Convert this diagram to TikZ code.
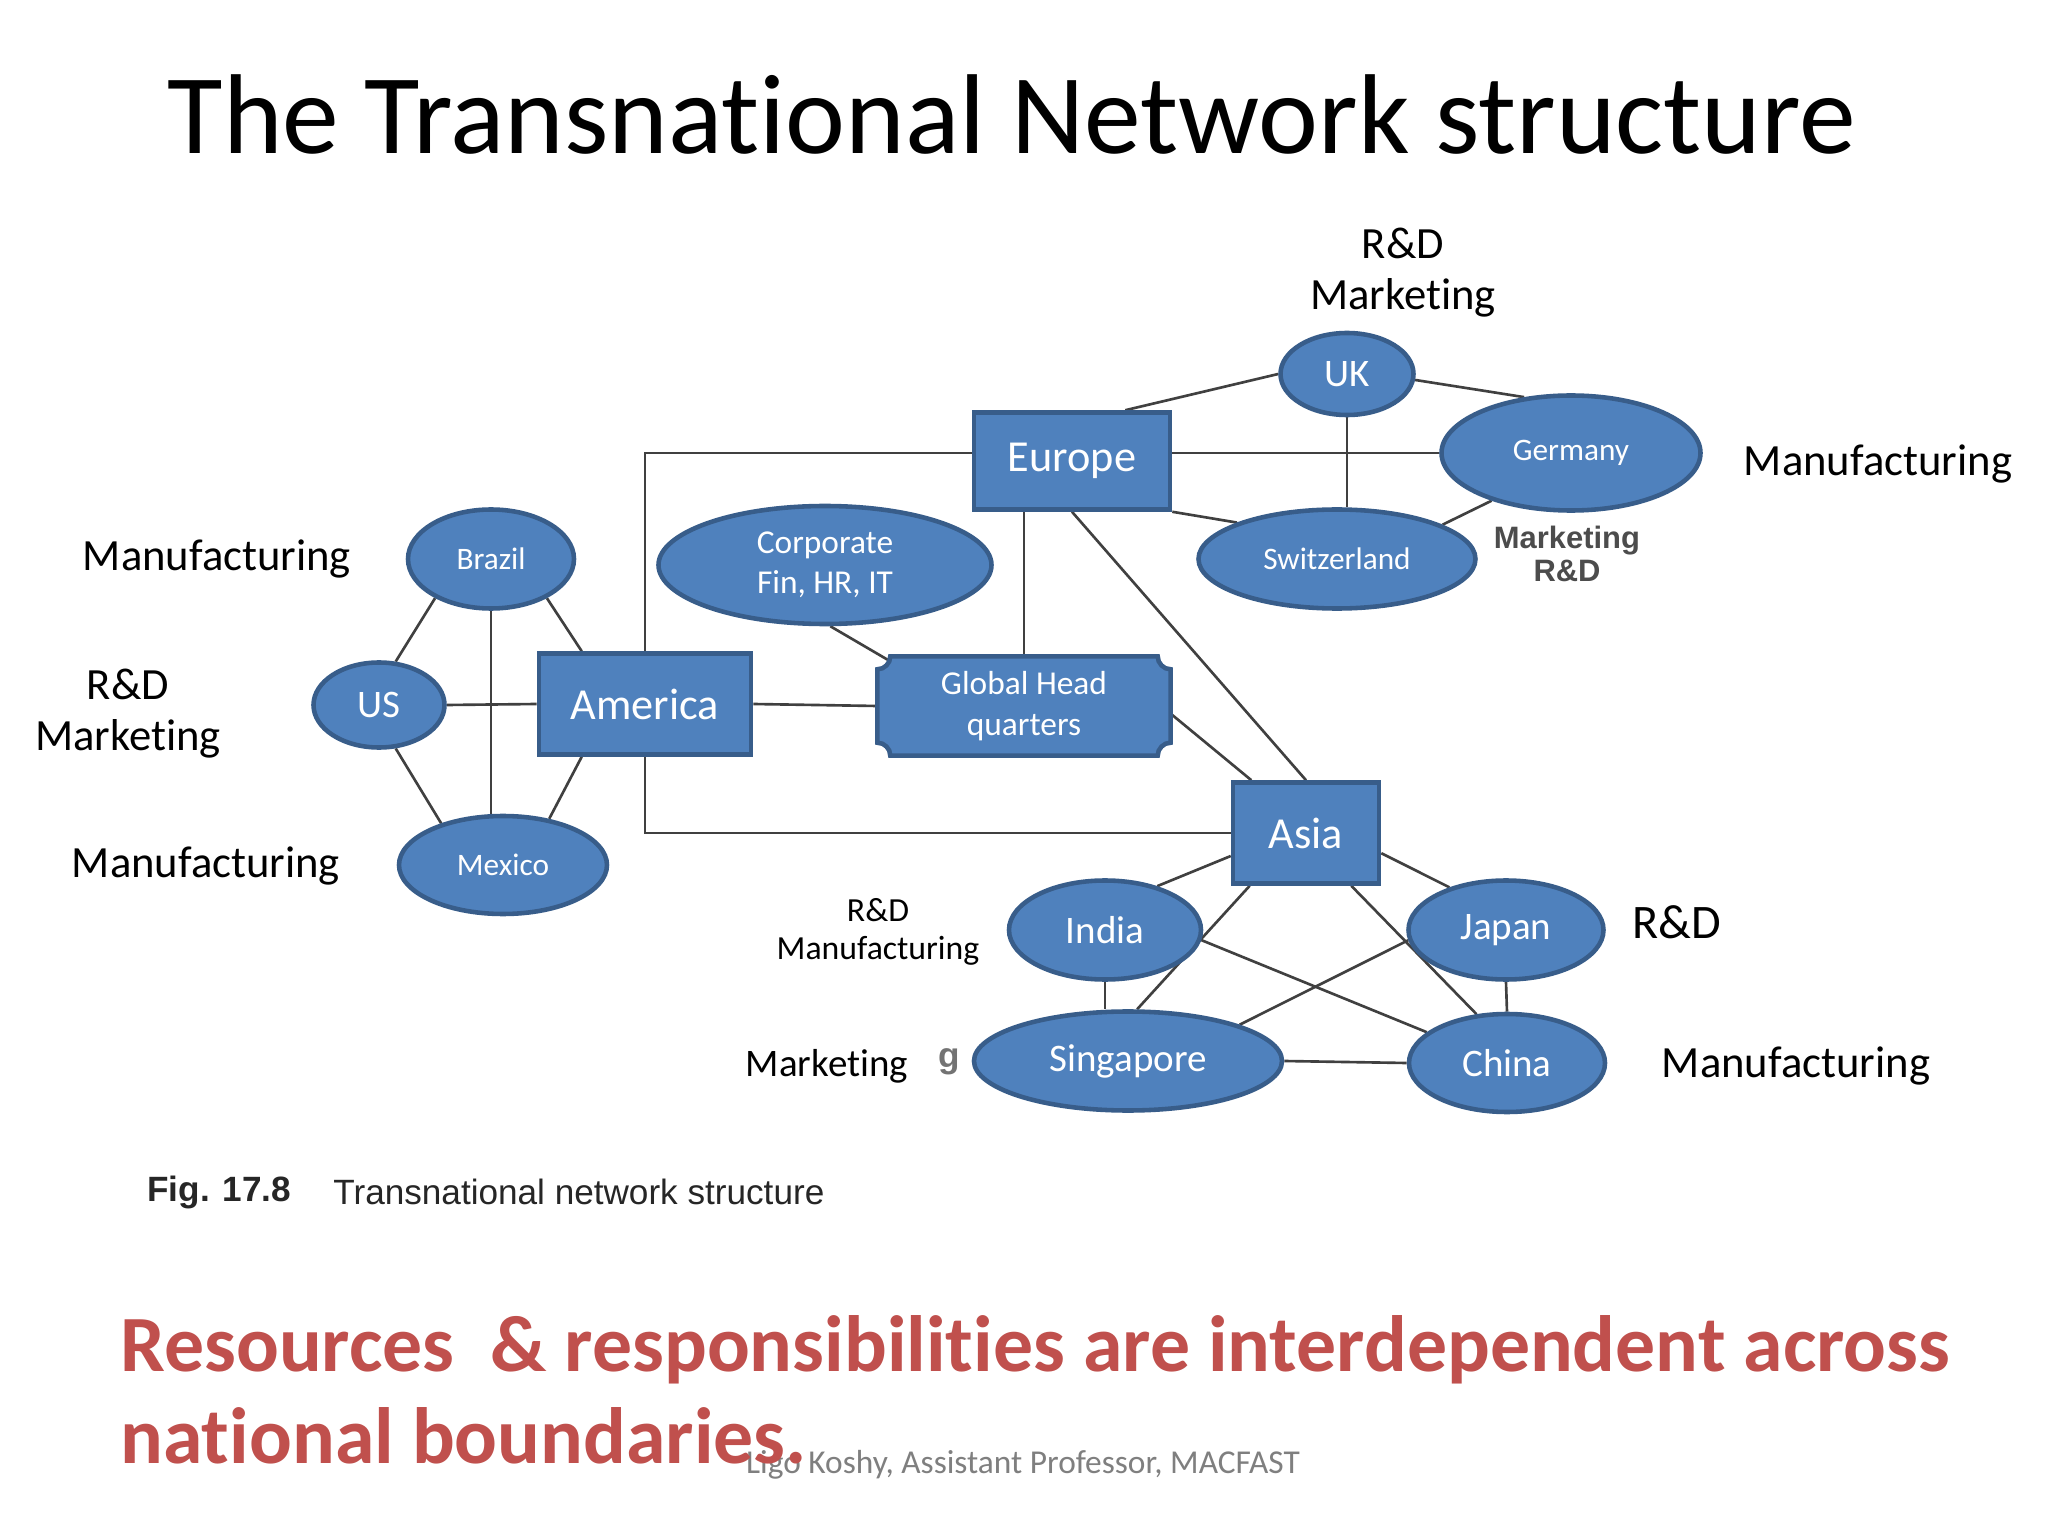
\documentclass[tikz,border=0pt]{standalone}
\usepackage{fontspec}
\setmainfont[Ligatures=NoCommon]{Carlito}
\newfontfamily\scanfont{Liberation Sans}
\usetikzlibrary{shapes.geometric, positioning, backgrounds}
\definecolor{nodeblue}{RGB}{79,129,189}
\definecolor{nodeedge}{RGB}{56,93,138}
\definecolor{slidered}{RGB}{192,80,77}
\definecolor{wire}{RGB}{64,64,64}
\definecolor{footgray}{RGB}{127,127,127}
\newcommand{\hqnotch}{0.13cm}

\begin{document}
\begin{tikzpicture}
    \tikzstyle{hub} = [rectangle, draw=nodeedge, line width=1.3pt, fill=nodeblue, text=white, inner sep=0pt, font=\fontsize{12.6}{15}\selectfont]
    \tikzstyle{country} = [ellipse, draw=nodeedge, line width=1.3pt, fill=nodeblue, text=white, inner sep=0pt, font=\fontsize{11.1}{13}\selectfont]
    \tikzstyle{minor} = [font=\fontsize{8.9}{11}\selectfont]
    \tikzstyle{twoline} = [align=center, font=\fontsize{9.5}{11.5}\selectfont]
    \tikzstyle{plaque} = [draw=nodeedge, line width=1.3pt, fill=nodeblue]
    \tikzstyle{resp} = [font=\fontsize{12.7}{15}\selectfont]
    \tikzstyle{scan} = [text=black!70, font=\scanfont\bfseries\fontsize{8.8}{10}\selectfont]
    \tikzstyle{line} = [draw=wire, line width=0.75pt]

    \useasboundingbox (0,0) rectangle (20.48,-15.36);

    \node [anchor=base, font=\fontsize{32.3}{38}\selectfont] (title) at (10.12,-1.54) {The Transnational Network structure};

    \node [hub, minimum width=1.96cm, minimum height=0.97cm] (europe) at (10.72,-4.61) {Europe};
    \node [hub, minimum width=2.12cm, minimum height=1.01cm] (america) at (6.45,-7.04) {America};
    \node [hub, minimum width=1.46cm, minimum height=1.01cm] (asia) at (13.06,-8.33) {Asia};

    \node [country, minimum width=1.33cm, minimum height=0.82cm] (uk) at (13.47,-3.74) {UK};
    \node [country, minor, minimum width=2.59cm, minimum height=1.15cm] (germany) at (15.71,-4.53) {Germany};
    \node [country, minor, minimum width=2.77cm, minimum height=0.99cm] (switzerland) at (13.37,-5.59) {Switzerland};
    \node [country, twoline, minimum width=3.33cm, minimum height=1.18cm] (corporate) at (8.25,-5.65) {Corporate\\Fin, HR, IT};
    \node [twoline, text=white, minimum width=2.92cm, minimum height=0.98cm] (hq) at (10.24,-7.06) {Global Head\\quarters};

    \node [country, minor, minimum width=1.66cm, minimum height=0.99cm] (brazil) at (4.91,-5.59) {Brazil};
    \node [country, minimum width=1.31cm, minimum height=0.85cm] (us) at (3.79,-7.05) {US};
    \node [country, minor, minimum width=2.08cm, minimum height=0.98cm] (mexico) at (5.03,-8.65) {Mexico};

    \node [country, minimum width=1.92cm, minimum height=0.99cm] (india) at (11.05,-9.30) {India};
    \node [country, minimum width=1.95cm, minimum height=0.99cm] (japan) at (15.06,-9.30) {Japan};
    \node [country, minimum width=3.08cm, minimum height=0.99cm] (singapore) at (11.28,-10.61) {Singapore};
    \node [country, minimum width=1.96cm, minimum height=0.98cm] (china) at (15.07,-10.63) {China};

    \node [resp] (ukrd) at (14.03,-2.43) {R\&D};
    \node [resp] (ukmkt) at (14.03,-2.98) {Marketing};
    \node [resp] (demfg) at (18.78,-4.64) {Manufacturing};
    \node [scan] (chmkt) at (15.67,-5.41) {Marketing};
    \node [scan] (chrd) at (15.67,-5.71) {R\&D};
    \node [resp] (brmfg) at (2.17,-5.59) {Manufacturing};
    \node [resp] (usrd) at (1.28,-6.84) {R\&D};
    \node [resp] (usmkt) at (1.28,-7.39) {Marketing};
    \node [resp] (mxmfg) at (2.06,-8.66) {Manufacturing};
    \node [font=\fontsize{9.6}{11}\selectfont] (inrd) at (8.78,-9.10) {R\&D};
    \node [font=\fontsize{9.6}{11}\selectfont] (inmfg) at (8.78,-9.51) {Manufacturing};
    \node [font=\fontsize{11.1}{13}\selectfont] (sgmkt) at (8.27,-10.66) {Marketing};
    \node [scan, text=black!55, font=\scanfont\bfseries\fontsize{10}{12}\selectfont] (stray) at (9.49,-10.62) {g};
    \node [font=\fontsize{13.7}{16}\selectfont] (jprd) at (16.77,-9.22) {R\&D};
    \node [resp] (cnmfg) at (17.96,-10.66) {Manufacturing};

    \node [anchor=west, text=black!85, font=\scanfont\bfseries\fontsize{10}{12}\selectfont] (figno) at (1.35,-11.92) {Fig. 17.8};
    \node [anchor=west, text=black!85, font=\scanfont\fontsize{10}{12}\selectfont] (figcap) at (3.21,-11.92) {Transnational network structure};

    \node [text=footgray, font=\fontsize{9.5}{11}\selectfont] (footer) at (10.23,-14.65) {Ligo Koshy, Assistant Professor, MACFAST};
    \node [anchor=base west, text=slidered, font=\bfseries\fontsize{22.7}{27}\selectfont] (msgone) at (1.08,-13.71) {Resources\ \ \& responsibilities are interdependent across};
    \node [anchor=base west, text=slidered, font=\bfseries\fontsize{22.7}{27}\selectfont] (msgtwo) at (1.08,-14.63) {national boundaries.};

    \begin{scope}[on background layer]
    \fill [white] (0,0) rectangle (20.48,-15.36);
    \path [line] (america.north) |- (europe.west |- germany.west);
    \path [line] (america.south) |- (asia.west);
    \path [line] (europe.east |- germany.west) -- (germany.west);
    \path [line] ([xshift=-0.47cm]europe.north east) -- (uk.west);
    \path [line] (uk.-5) -- (germany.130);
    \path [line] (uk.south) -- (uk.south |- switzerland.north);
    \path [line] (europe.south east) -- (switzerland.160);
    \path [line] (germany.211) -- (switzerland.18);
    \path [line] (hq.north) -- (hq.north |- europe.south);
    \path [line] (europe.south) -- (asia.north);
    \path [line] (hq.-3) -- (asia.136);
    \path [line] (corporate.-85) -- ([shift={(0.13,-0.05)}]hq.north west);
    \path [line] (america.east) -- (hq.west);
    \path [line] (us.east) -- (america.west);
    \path [line] (brazil.215) -- (us.69);
    \path [line] (brazil.-35) -- ([xshift=0.45cm]america.north west);
    \path [line] (brazil.south) -- (brazil.south |- mexico.north);
    \path [line] (us.-69) -- (mexico.146);
    \path [line] ([xshift=0.45cm]america.south west) -- (mexico.45);
    \path [line] (asia.197) -- (india.40);
    \path [line] (asia.-15) -- (japan.143);
    \path [line] ([xshift=0.19cm]asia.south west) -- (singapore.80);
    \path [line] ([xshift=-0.3cm]asia.south east) -- (china.122);
    \path [line] (india.-6) -- (china.159);
    \path [line] (japan.186) -- (singapore.18);
    \path [line] (india.south) -- (india.south |- singapore.north);
    \path [line] (japan.south) -- (china.north);
    \path [line] (singapore.east) -- (china.west);
    \path [plaque] ([xshift=\hqnotch]hq.north west) -- ([xshift=-\hqnotch]hq.north east) arc[start angle=180, end angle=270, radius=\hqnotch]
        -- ([yshift=\hqnotch]hq.south east) arc[start angle=90, end angle=180, radius=\hqnotch]
        -- ([xshift=\hqnotch]hq.south west) arc[start angle=0, end angle=90, radius=\hqnotch]
        -- ([yshift=-\hqnotch]hq.north west) arc[start angle=270, end angle=360, radius=\hqnotch] -- cycle;
    \end{scope}
\end{tikzpicture}
\end{document}
